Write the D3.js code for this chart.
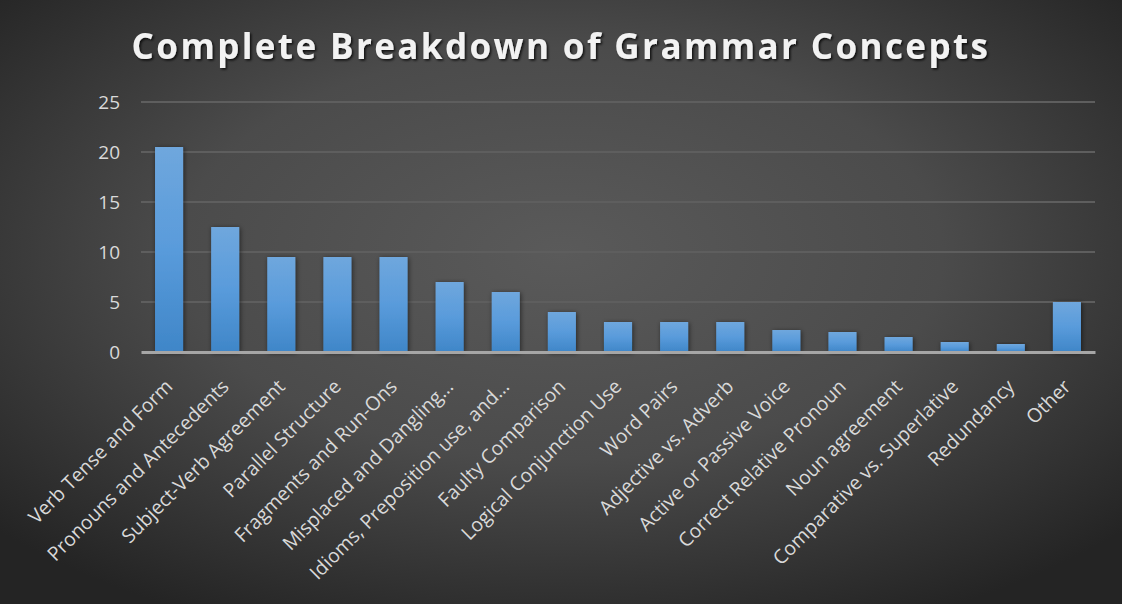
<!DOCTYPE html>
<html>
<head>
<meta charset="utf-8">
<script src="https://cdn.jsdelivr.net/npm/d3@7"></script>
<style>
  html, body { margin: 0; padding: 0; background: #333; }
  svg { display: block; }
</style>
</head>
<body>
<div id="chart"></div>
<script>
// Chart data
var categories = [
  "Verb Tense and Form", "Pronouns and Antecedents", "Subject-Verb Agreement",
  "Parallel Structure", "Fragments and Run-Ons", "Misplaced and Dangling\u2026",
  "Idioms, Preposition use, and\u2026", "Faulty Comparison", "Logical Conjunction Use",
  "Word Pairs", "Adjective vs. Adverb", "Active or Passive Voice",
  "Correct Relative Pronoun", "Noun agreement", "Comparative vs. Superlative",
  "Redundancy", "Other"
];
var counts = [20.5, 12.5, 9.5, 9.5, 9.5, 7, 6, 4, 3, 3, 3, 2.2, 2, 1.5, 1, 0.8, 5];
var yTicks = [0, 5, 10, 15, 20, 25];
var title = "Complete Breakdown of Grammar Concepts";

var w = 1122, h = 604;
var margin = {top: 102, right: 27, bottom: 252, left: 141};

var svg = d3.select("#chart").append("svg").attr("width", w).attr("height", h);
var defs = svg.append("defs");

// background: dark radial glow
var bg = defs.append("radialGradient").attr("id", "bg")
  .attr("cx", "50%").attr("cy", "42%").attr("r", "68%");
bg.append("stop").attr("offset", "0%").attr("stop-color", "#5a5a5a");
bg.append("stop").attr("offset", "50%").attr("stop-color", "#4b4b4b");
bg.append("stop").attr("offset", "100%").attr("stop-color", "#242424");
svg.append("rect").attr("width", w).attr("height", h).attr("fill", "url(#bg)");

var barGrad = defs.append("linearGradient").attr("id", "barGrad")
  .attr("x1", 0).attr("y1", 0).attr("x2", 0).attr("y2", 1);
barGrad.append("stop").attr("offset", "0%").attr("stop-color", "#6fa7dd");
barGrad.append("stop").attr("offset", "50%").attr("stop-color", "#599bdb");
barGrad.append("stop").attr("offset", "100%").attr("stop-color", "#3f86c8");

var shadow = defs.append("filter").attr("id", "shadow")
  .attr("x", "-50%").attr("y", "-20%").attr("width", "200%").attr("height", "140%");
shadow.append("feDropShadow").attr("dx", 1).attr("dy", 1).attr("stdDeviation", 2.5)
  .attr("flood-color", "#000").attr("flood-opacity", 0.55);

var tShadow = defs.append("filter").attr("id", "tshadow");
tShadow.append("feDropShadow").attr("dx", 1.5).attr("dy", 1.5).attr("stdDeviation", 1.2)
  .attr("flood-color", "#000").attr("flood-opacity", 0.8);

var x = d3.scaleBand().domain(categories)
  .range([margin.left, w - margin.right]).paddingInner(0.5).paddingOuter(0.25);
var y = d3.scaleLinear().domain([0, 25]).range([h - margin.bottom, margin.top]);

// gridlines
svg.append("g").selectAll("line")
  .data(yTicks.slice(1))
  .enter().append("line")
  .attr("x1", margin.left).attr("x2", w - margin.right)
  .attr("y1", function(d) { return y(d); }).attr("y2", function(d) { return y(d); })
  .attr("stroke", "#5e5e5e").attr("stroke-width", 2);

// y axis labels
var yAxis = d3.axisLeft(y).tickValues(yTicks).tickSize(0).tickPadding(21);
var yg = svg.append("g").attr("transform", "translate(" + margin.left + ",0)").call(yAxis);
yg.select(".domain").remove();
yg.selectAll("text")
  .attr("fill", "#d9d9d9")
  .style("font-family", "'Open Sans', sans-serif")
  .style("font-size", "19px");

// bars
svg.append("g").selectAll("rect")
  .data(counts)
  .enter().append("rect")
  .attr("x", function(d, i) { return x(categories[i]); })
  .attr("y", function(d) { return y(d); })
  .attr("width", x.bandwidth())
  .attr("height", function(d) { return y(0) - y(d); })
  .attr("fill", "url(#barGrad)")
  .attr("filter", "url(#shadow)");

// x axis line + labels
var xAxis = d3.axisBottom(x).tickSize(0).tickPadding(0);
var xg = svg.append("g").attr("transform", "translate(0," + y(0) + ")").call(xAxis);
xg.select(".domain").attr("stroke", "#a6a6a6").attr("stroke-width", 3);
xg.selectAll(".tick text")
  .attr("fill", "#d9d9d9")
  .attr("text-anchor", "end")
  .attr("transform", "translate(0,31) rotate(-45)")
  .attr("dy", "0.35em")
  .attr("y", 0)
  .style("font-family", "'Open Sans', sans-serif")
  .style("font-size", "19.5px");

// title
svg.append("text")
  .attr("x", w / 2).attr("y", 59)
  .attr("text-anchor", "middle")
  .attr("fill", "#f2f2f2")
  .attr("filter", "url(#tshadow)")
  .style("font-family", "'Open Sans', sans-serif")
  .style("font-weight", "bold")
  .style("font-size", "35px")
  .style("letter-spacing", "2.4px")
  .text(title);
</script>
</body>
</html>
